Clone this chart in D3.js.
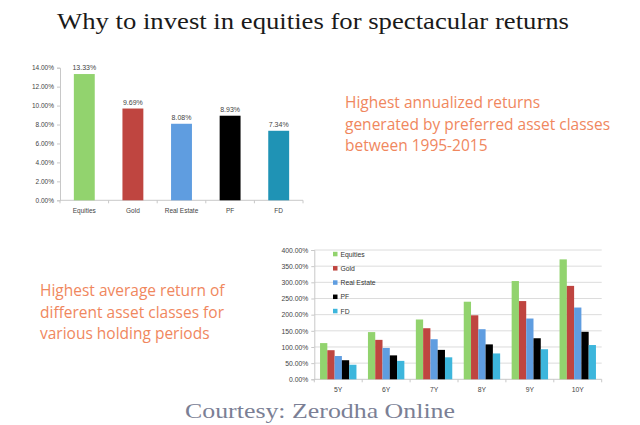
<!DOCTYPE html>
<html>
<head>
<meta charset="utf-8">
<script src="https://cdn.jsdelivr.net/npm/d3@7"></script>
<style>
  body { margin: 0; background: #fff; }
  svg { display: block; }
</style>
</head>
<body>
<svg width="640" height="425"></svg>
<script>
// ---- data ----
const assets = ["Equities", "Gold", "Real Estate", "PF", "FD"];
const annualized = [13.33, 9.69, 8.08, 8.93, 7.34];
const annualTicks = [0, 2, 4, 6, 8, 10, 12, 14];

const periods = ["5Y", "6Y", "7Y", "8Y", "9Y", "10Y"];
const equitiesAvg = [112, 146, 185, 240, 304, 371];
const goldAvg = [90, 122, 158, 198, 242, 289];
const realEstateAvg = [72, 97, 124, 155, 188, 222];
const pfAvg = [59, 74, 91, 108, 127, 147];
const fdAvg = [45, 57, 68, 80, 93, 106];
const holdingTicks = [0, 50, 100, 150, 200, 250, 300, 350, 400];

const colors1 = ["#92d36e", "#bf4540", "#5f9de0", "#000000", "#1f93b5"];
const colors2 = ["#92d36e", "#bf4540", "#5f9de0", "#000000", "#3db6dc"];

let svg = d3.select("svg");

// --------------- //
// TITLES //
// --------------- //
svg.append("text")
    .attr("x", 313).attr("y", 29)
    .attr("text-anchor", "middle")
    .attr("textLength", 512)
    .attr("lengthAdjust", "spacingAndGlyphs")
    .style("font-family", "Liberation Serif, serif")
    .style("font-size", "23px")
    .style("fill", "#1a1a1a")
    .text("Why to invest in equities for spectacular returns");

svg.append("text")
    .attr("x", 320).attr("y", 418)
    .attr("text-anchor", "middle")
    .attr("textLength", 270)
    .attr("lengthAdjust", "spacingAndGlyphs")
    .style("font-family", "Liberation Serif, serif")
    .style("font-size", "21px")
    .style("fill", "#7b7f95")
    .text("Courtesy: Zerodha Online");

let note = (x, y, lines) => {
    svg.append("g").selectAll("text")
        .data(lines).enter().append("text")
        .attr("x", x)
        .attr("y", (d, i) => y + i * 21.5)
        .style("font-family", "Open Sans, sans-serif")
        .style("font-size", "15.5px")
        .style("fill", "#f0875e")
        .text(d => d);
};
note(345, 108, ["Highest annualized returns", "generated by preferred asset classes", "between 1995-2015"]);
note(40, 296, ["Highest average return of", "different asset classes for", "various holding periods"]);

// --------------- //
// CHART 1 //
// --------------- //
let c1 = svg.append("g");
let x1 = d3.scaleBand().domain(assets).range([60, 303]).paddingInner(0.57).paddingOuter(0.285);
let y1 = d3.scaleLinear().domain([0, 14]).range([200.3, 67.7]);

c1.append("g")
    .attr("transform", "translate(60,0)")
    .call(d3.axisLeft(y1).tickValues(annualTicks).tickSize(3).tickFormat(d => d.toFixed(2) + "%"))
    .call(g => g.selectAll("line, path").attr("stroke", "#c8c8c8"))
    .call(g => g.selectAll("text").style("font-family", "Liberation Sans, Arial, sans-serif").style("font-size", "6.5px").attr("fill", "#444"));

c1.append("line")
    .attr("x1", 60).attr("x2", 303).attr("y1", y1(0)).attr("y2", y1(0))
    .attr("stroke", "#c8c8c8");
c1.selectAll(".sep1")
    .data(d3.range(assets.length + 1)).enter().append("line")
    .attr("class", "sep1")
    .attr("x1", i => 60 + i * x1.step()).attr("x2", i => 60 + i * x1.step())
    .attr("y1", y1(0)).attr("y2", y1(0) + 3)
    .attr("stroke", "#c8c8c8");

c1.selectAll(".bar1")
    .data(annualized).enter().append("rect")
    .attr("class", "bar1")
    .attr("x", (d, i) => x1(assets[i]))
    .attr("width", x1.bandwidth())
    .attr("y", d => y1(d))
    .attr("height", d => y1(0) - y1(d))
    .attr("fill", (d, i) => colors1[i]);

c1.selectAll(".val")
    .data(annualized).enter().append("text")
    .attr("class", "val")
    .attr("x", (d, i) => x1(assets[i]) + x1.bandwidth() / 2)
    .attr("y", d => y1(d) - 4)
    .attr("text-anchor", "middle")
    .style("font-family", "Liberation Sans, Arial, sans-serif")
    .style("font-size", "7px")
    .style("fill", "#444")
    .text(d => d.toFixed(2) + "%");

c1.selectAll(".cat")
    .data(assets).enter().append("text")
    .attr("class", "cat")
    .attr("x", d => x1(d) + x1.bandwidth() / 2)
    .attr("y", 213)
    .attr("text-anchor", "middle")
    .style("font-family", "Liberation Sans, Arial, sans-serif")
    .style("font-size", "6.5px")
    .style("fill", "#444")
    .text(d => d);

// --------------- //
// CHART 2 //
// --------------- //
let c2 = svg.append("g");
let series = [equitiesAvg, goldAvg, realEstateAvg, pfAvg, fdAvg];
let x2 = d3.scaleBand().domain(periods).range([314.3, 601.7]).paddingInner(0.24).paddingOuter(0.12);
let xs = d3.scaleBand().domain(assets).range([0, x2.bandwidth()]);
let y2 = d3.scaleLinear().domain([0, 400]).range([379.3, 250]);

c2.append("g")
    .selectAll("line")
    .data(holdingTicks.slice(1)).enter().append("line")
    .attr("x1", 314.3).attr("x2", 601.7)
    .attr("y1", d => y2(d)).attr("y2", d => y2(d))
    .attr("stroke", "#dcdcdc");

c2.append("g")
    .attr("transform", "translate(314.3,0)")
    .call(d3.axisLeft(y2).tickValues(holdingTicks).tickSize(3).tickFormat(d => d.toFixed(2) + "%"))
    .call(g => g.selectAll("line, path").attr("stroke", "#c8c8c8"))
    .call(g => g.selectAll("text").style("font-family", "Liberation Sans, Arial, sans-serif").style("font-size", "6.8px").attr("fill", "#444"));

c2.append("line")
    .attr("x1", 314.3).attr("x2", 601.7).attr("y1", y2(0)).attr("y2", y2(0))
    .attr("stroke", "#c8c8c8");
c2.selectAll(".sep2")
    .data(d3.range(periods.length + 1)).enter().append("line")
    .attr("class", "sep2")
    .attr("x1", i => 314.3 + i * x2.step()).attr("x2", i => 314.3 + i * x2.step())
    .attr("y1", y2(0)).attr("y2", y2(0) + 3)
    .attr("stroke", "#c8c8c8");

series.forEach((vals, s) => {
    c2.append("g")
        .selectAll("rect")
        .data(vals).enter().append("rect")
        .attr("x", (d, i) => x2(periods[i]) + xs(assets[s]))
        .attr("width", xs.bandwidth())
        .attr("y", d => y2(d))
        .attr("height", d => y2(0) - y2(d))
        .attr("fill", colors2[s]);
});

c2.selectAll(".per")
    .data(periods).enter().append("text")
    .attr("class", "per")
    .attr("x", d => x2(d) + x2.bandwidth() / 2)
    .attr("y", 392)
    .attr("text-anchor", "middle")
    .style("font-family", "Liberation Sans, Arial, sans-serif")
    .style("font-size", "6.8px")
    .style("fill", "#444")
    .text(d => d);

// legend
let legend = c2.append("g").selectAll("g")
    .data(assets).enter().append("g")
    .attr("transform", (d, i) => "translate(333," + (254.3 + i * 14.25) + ")");
legend.append("rect")
    .attr("x", 0).attr("y", -2.5).attr("width", 4.5).attr("height", 4.5)
    .attr("fill", (d, i) => colors2[i]);
legend.append("text")
    .attr("x", 7.5).attr("y", 2.3)
    .style("font-family", "Liberation Sans, Arial, sans-serif")
    .style("font-size", "6.8px")
    .style("fill", "#333")
    .text(d => d);
</script>
</body>
</html>
